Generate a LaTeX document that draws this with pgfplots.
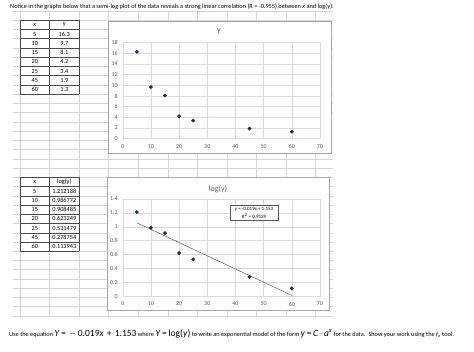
\documentclass[border=0pt]{standalone}
\usepackage{pgfplots}
\pgfplotsset{compat=1.18}
\usepackage{fontspec}
\setmainfont{Carlito}
\definecolor{gridc}{HTML}{D9D9D9}
\definecolor{sheetc}{HTML}{D4D4D4}
\definecolor{labc}{HTML}{595959}
\definecolor{markc}{HTML}{1A2F55}
\definecolor{framec}{HTML}{A6A6A6}
\definecolor{tabc}{HTML}{4A4A4A}
\newcommand{\fs}[1]{\fontsize{#1}{#1}\selectfont}
\pgfplotsset{sheetaxis/.style={
  scale only axis, width=197.3pt, anchor=south west,
  xmin=0, xmax=70, xtick={0,10,...,70},
  grid=major, major grid style={draw=gridc, line width=0.4pt},
  axis line style={draw=gridc, line width=0.4pt},
  tick style={draw=none},
  tick label style={font=\fs{6}, text=labc},
  yticklabel style={xshift=-1.5pt},
  xticklabel style={yshift=-2.2pt},
  /pgf/number format/assume math mode=true,
  clip=false}}
\begin{document}
\begin{tikzpicture}[x=1pt,y=1pt]
\fill[white] (0,0) rectangle (474,351);
\useasboundingbox (0,0) rectangle (474,351);
% sheet grid
\foreach \k in {-1,...,32} {
  \draw[sheetc, line width=0.4pt] (13,{330.8-\k*9.24}) -- (333,{330.8-\k*9.24});
}
\foreach \j in {0,...,10} {
  \draw[sheetc, line width=0.4pt] ({20+\j*29.55},340.04) -- ({20+\j*29.55},35.1);
}
% top text
\node[anchor=west, font=\fs{6.3}, inner sep=0pt] at (10,344.3) {Notice in the graphs below that a semi-log plot of the data reveals a strong linear correlation (R = -0.955) between \textit{x} and log(\textit{y}).};
% table 1
\fill[white] (20,330.8) rectangle (79.1,256.9);
\foreach \k in {0,...,8} {\draw[tabc, line width=0.4pt] (20,{330.8-\k*9.24}) -- (79.1,{330.8-\k*9.24});}
\draw[tabc, line width=0.4pt] (20,330.8) -- (20,256.9) (49.55,330.8) -- (49.55,256.9) (79.1,330.8) -- (79.1,256.9);
\foreach \a/\b [count=\i from 0] in {x/y,5/16.3,10/9.7,15/8.1,20/4.2,25/3.4,45/1.9,60/1.3} {
  \node[font=\fs{6.3}, inner sep=0pt] at (34.8,{330.8-4.62-\i*9.24}) {\a};
  \node[font=\fs{6.3}, inner sep=0pt] at (64.3,{330.8-4.62-\i*9.24}) {\b};
}
% table 2
\fill[white] (20,173.7) rectangle (79.1,99.8);
\foreach \k in {0,...,8} {\draw[tabc, line width=0.4pt] (20,{173.7-\k*9.24}) -- (79.1,{173.7-\k*9.24});}
\draw[tabc, line width=0.4pt] (20,173.7) -- (20,99.8) (49.55,173.7) -- (49.55,99.8) (79.1,173.7) -- (79.1,99.8);
\foreach \a/\b [count=\i from 0] in {x/log(y),5/1.212188,10/0.986772,15/0.908485,20/0.623249,25/0.531479,45/0.278754,60/0.113943} {
  \node[font=\fs{6.3}, inner sep=0pt] at (34.8,{173.7-4.62-\i*9.24}) {\a};
  \node[font=\fs{6.3}, inner sep=0pt] at (64.3,{173.7-4.62-\i*9.24}) {\b};
}
% chart 1 frame
\filldraw[fill=white, draw=framec, line width=0.5pt] (108,197.7) rectangle (331,330);
\node[font=\fs{8}, text=labc] at (219,319.3) {y};
\begin{axis}[sheetaxis, at={(122.7pt,212.3pt)}, height=96pt,
  ymin=0, ymax=18, ytick={0,2,...,18}]
\addplot[only marks, mark=*, mark size=1.7pt, color=markc] coordinates {
(5,16.3) (10,9.7) (15,8.1) (20,4.2) (25,3.4) (45,1.9) (60,1.3)};
\end{axis}
% chart 2 frame
\filldraw[fill=white, draw=framec, line width=0.5pt] (107,41) rectangle (329.5,173.7);
\node[font=\fs{8}, text=labc] at (218,162) {log(y)};
\begin{axis}[sheetaxis, at={(122.7pt,54.7pt)}, height=97.3pt,
  ymin=0, ymax=1.4, ytick={0,0.2,0.4,0.6,0.8,1,1.2,1.4}]
\addplot[draw=labc, line width=0.5pt] coordinates {(5,1.058) (60,0.013)};
\addplot[only marks, mark=*, mark size=1.7pt, color=markc] coordinates {
(5,1.212188) (10,0.986772) (15,0.908485) (20,0.623249) (25,0.531479) (45,0.278754) (60,0.113943)};
\end{axis}
\filldraw[fill=white, draw=labc, line width=0.4pt] (230,131.2) rectangle (278,145.5);
\node[font=\fs{5}, inner sep=0pt] at (254,141.4) {y = -0.019x + 1.153};
\node[font=\fs{5}, inner sep=0pt] at (254,135.2) {R\textsuperscript{2} = 0.9139};
% bottom text
\node[anchor=west, inner sep=0pt] at (9,17) {\fs{6.3}Use the equation {\fs{9.5}\textit{Y}\,=\,\,$-$\,0.019\textit{x}\,\,+\,\,1.153} where {\fs{9.5}\textit{Y}\,=\,log(\textit{y})} to write an exponential model of the form {\fs{9.5}\textit{y}\,=\,\textit{C}\,$\cdot$\,\textit{a}\textsuperscript{\textit{x}}} for the data.\enspace Show your work using the \textit{f}\textsubscript{\textit{x}} tool.};
\end{tikzpicture}
\end{document}
